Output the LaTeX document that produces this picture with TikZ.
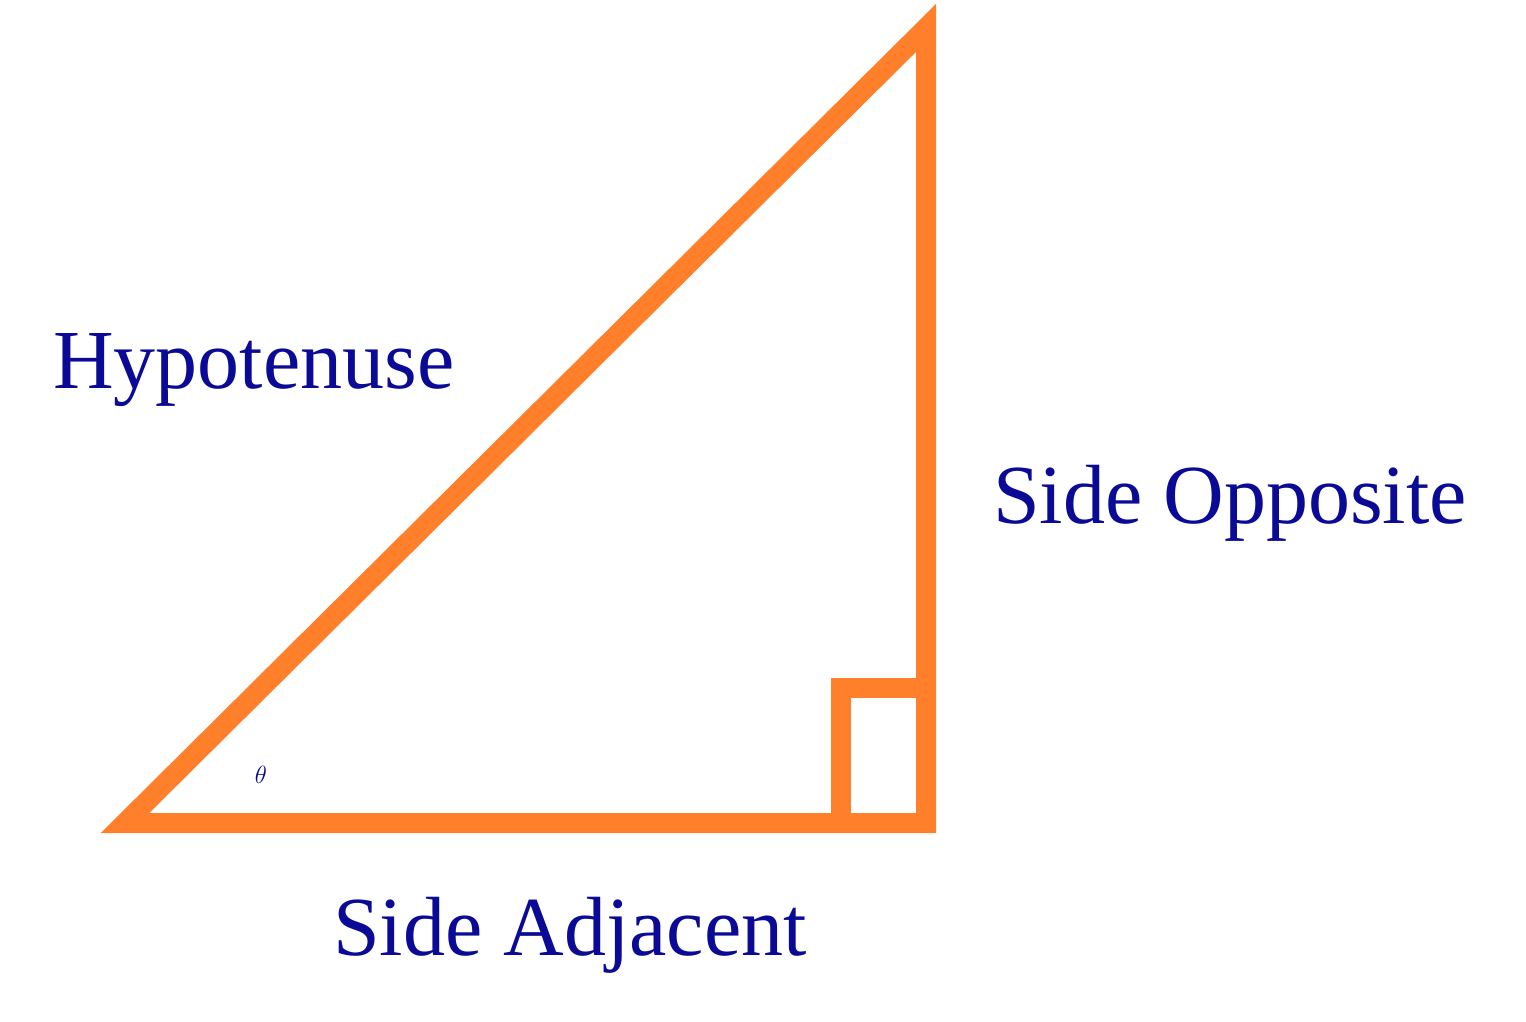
\documentclass[tikz,border=0pt]{standalone}
\usepackage{fontspec}
\setmainfont{Liberation Serif}
\usetikzlibrary{positioning}
\definecolor{legorange}{HTML}{FF7F2A}
\definecolor{labelblue}{HTML}{0A0A96}
\tikzstyle{leg} = [draw=legorange, line width=20pt, miter limit=20]
\tikzstyle{label} = [text=labelblue, inner sep=0pt, anchor=base west, font=\fontsize{84}{90}\selectfont]

\begin{document}
\begin{tikzpicture}[x=1pt, y=-1pt]
			\useasboundingbox (0,0) rectangle (1526,1021);
			% Corners
			\coordinate (angle) at (125,823);
			\coordinate (right) at (926,823);
			\coordinate (apex) at (926,28);
			
			% Triangle and right angle mark
			\draw [leg] (angle) -- (right) -- (apex) -- cycle;
			\draw [leg] (841,823) -- (841,688) -- (926,688);
			
			% Labels
			\node (hypotenuse) [label] at (53,388) {Hypotenuse};
			\node (opposite) [label] at (993,523) {Side Opposite};
			\node (adjacent) [label] at (333,955) {Side Adjacent};
			\node (theta) [text=labelblue, font=\fontsize{70}{80}\selectfont] at (261,775) {$\theta$};
		\end{tikzpicture}
\end{document}
